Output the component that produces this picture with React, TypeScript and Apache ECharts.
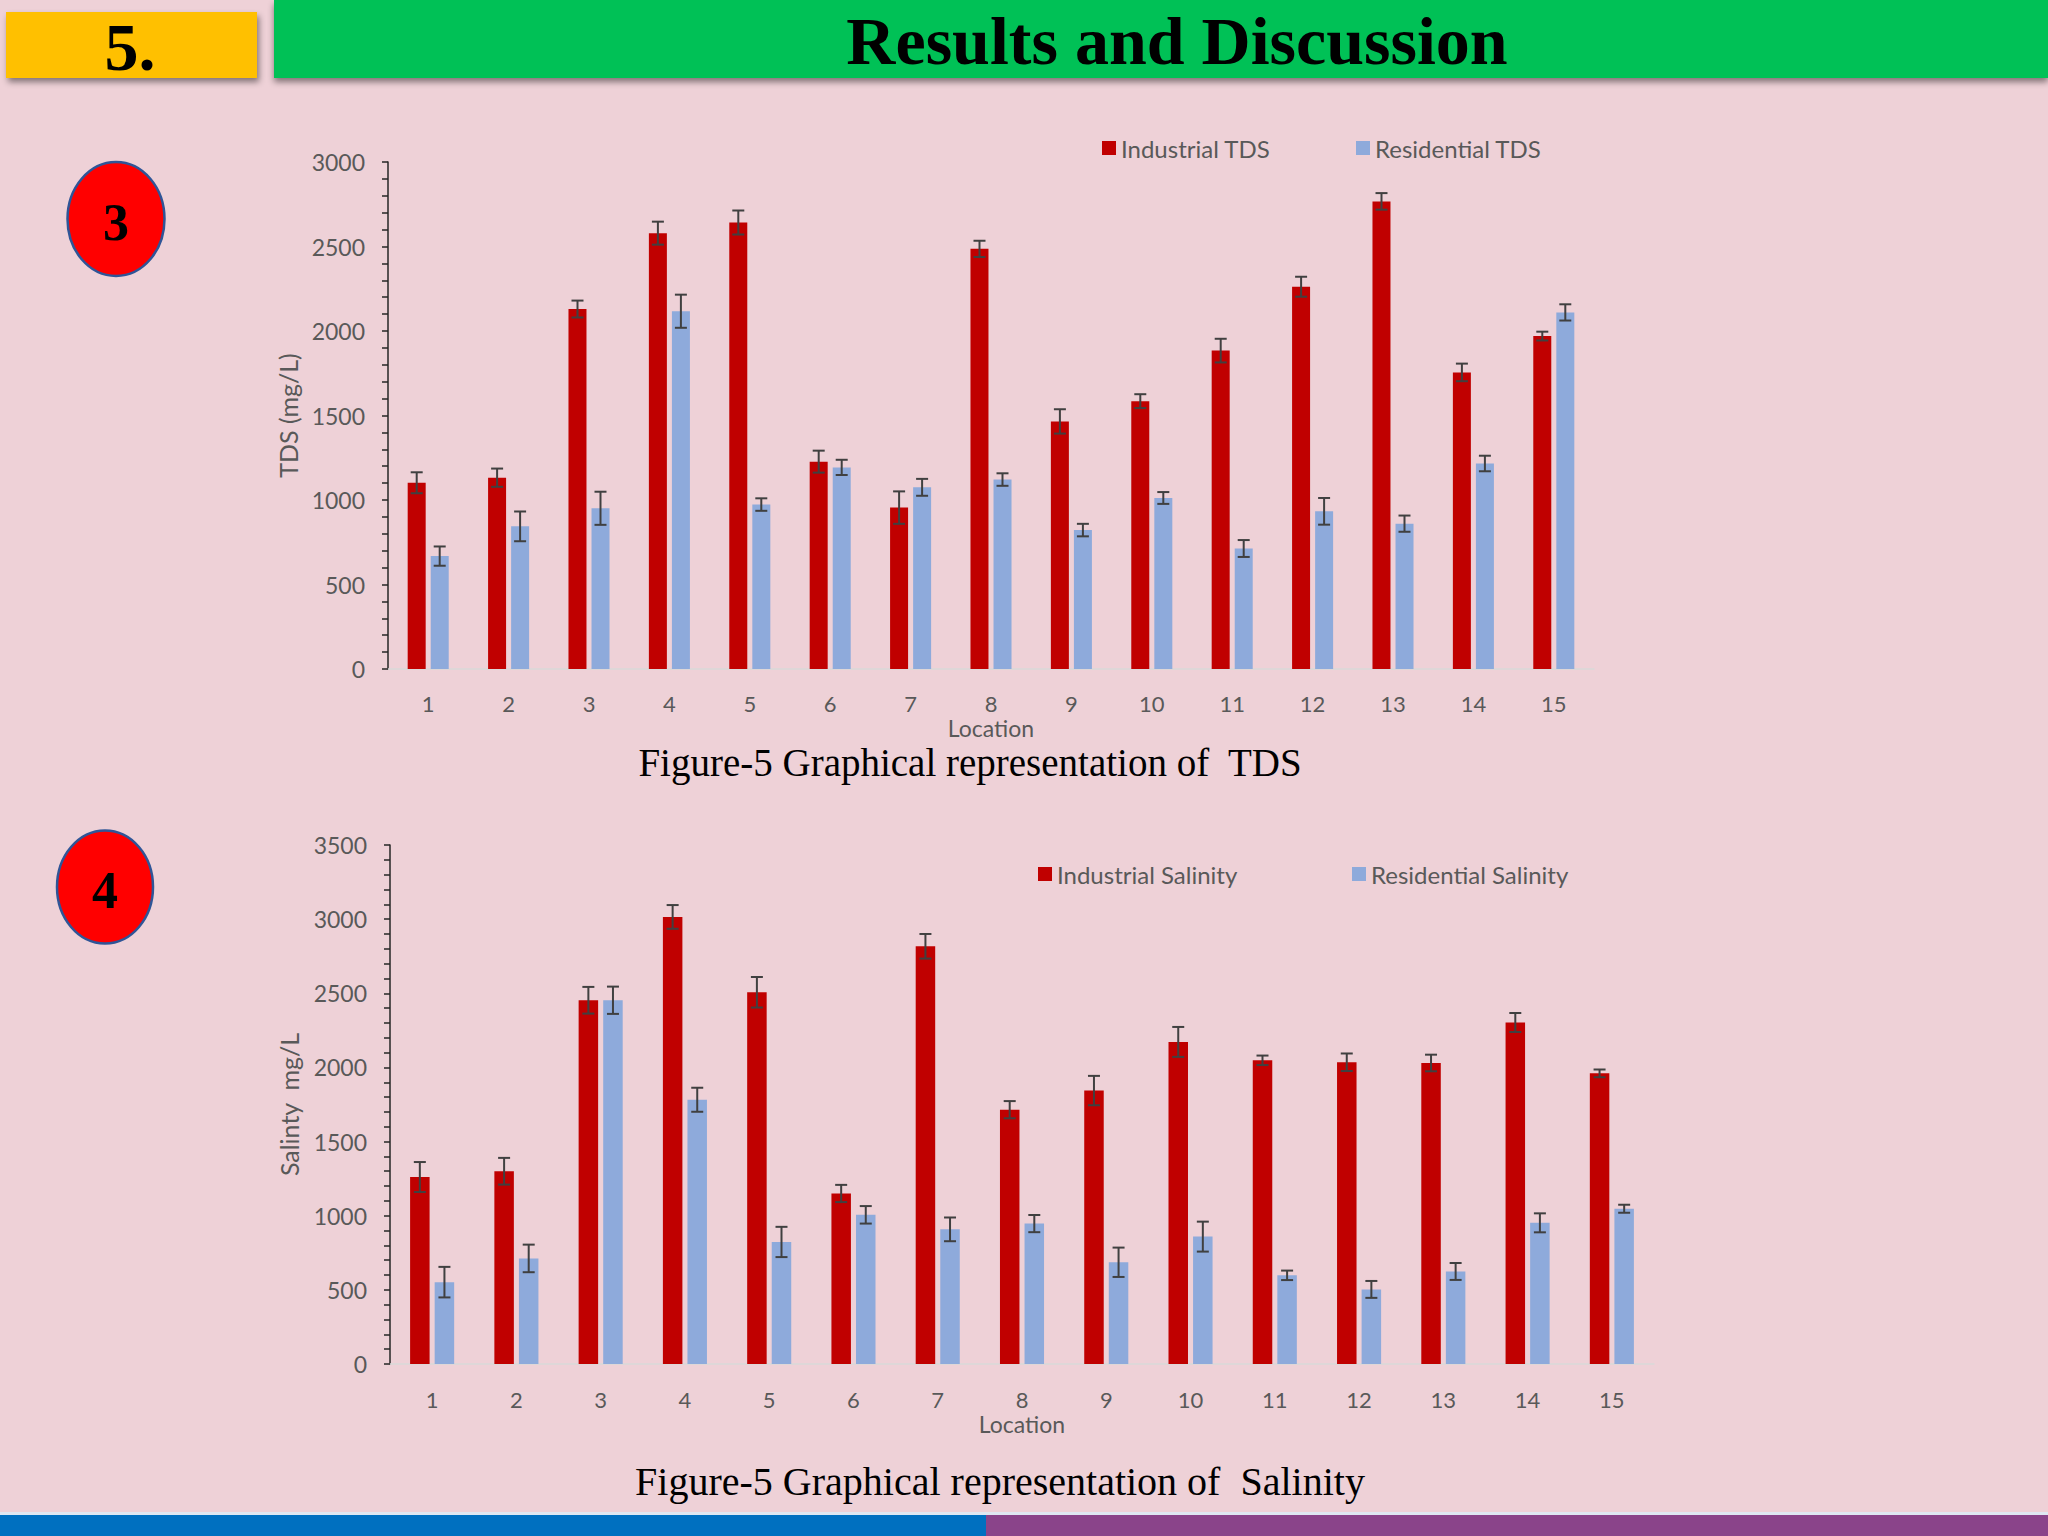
import React, { useEffect, useRef } from "react";
import * as echarts from "echarts";

// Sampling locations shared by both charts
const locations = ["1", "2", "3", "4", "5", "6", "7", "8", "9", "10", "11", "12", "13", "14", "15"];

// Total dissolved solids (mg/L) with standard-error bars
const industrialTDS = [1102, 1132, 2130, 2579, 2642, 1227, 955, 2486, 1465, 1585, 1884, 2262, 2767, 1755, 1970];
const industrialTDSErr = [62, 54, 50, 68, 71, 65, 96, 48, 72, 41, 70, 59, 49, 52, 26];
const residentialTDS = [668, 844, 951, 2117, 973, 1193, 1075, 1121, 822, 1012, 713, 933, 860, 1216, 2110];
const residentialTDSErr = [57, 88, 98, 98, 37, 45, 50, 37, 37, 35, 50, 79, 48, 46, 48];

// Salinity (mg/L) with standard-error bars
const industrialSalinity = [1261, 1300, 2453, 3015, 2507, 1150, 2817, 1715, 1844, 2172, 2048, 2035, 2030, 2303, 1960];
const industrialSalinityErr = [101, 90, 90, 80, 103, 58, 83, 58, 99, 101, 32, 59, 56, 64, 26];
const residentialSalinity = [552, 712, 2453, 1782, 823, 1006, 908, 947, 686, 859, 598, 503, 624, 952, 1047];
const residentialSalinityErr = [103, 93, 92, 81, 102, 59, 80, 58, 99, 101, 32, 57, 57, 64, 27];

const SANS = 'Lato, "Open Sans", "Noto Sans", sans-serif';
const SERIF = '"Liberation Serif", "DejaVu Serif", serif';
const RED = "#c00000";
const BLUE = "#8eaadb";
const GREY_TEXT = "#595959";

function errorBars(
  values: number[],
  errs: number[],
  axisIndex: number,
  offset: number
) {
  return {
    type: "custom",
    xAxisIndex: axisIndex,
    yAxisIndex: axisIndex,
    z: 10,
    silent: true,
    data: values.map((v, i) => [i, v, errs[i]]),
    encode: { x: 0, y: 1 },
    renderItem: (_params: any, api: any) => {
      const i = api.value(0);
      const v = api.value(1);
      const e = api.value(2);
      const hi = api.coord([i, v + e]);
      const lo = api.coord([i, v - e]);
      const x = hi[0] + offset;
      const style = { stroke: "#404040", lineWidth: 2 };
      return {
        type: "group",
        children: [
          { type: "line", shape: { x1: x, y1: hi[1], x2: x, y2: lo[1] }, style },
          { type: "line", shape: { x1: x - 6, y1: hi[1], x2: x + 6, y2: hi[1] }, style },
          { type: "line", shape: { x1: x - 6, y1: lo[1], x2: x + 6, y2: lo[1] }, style },
        ],
      };
    },
  };
}

function valueAxis(gridIndex: number, max: number, name: string, gap: number) {
  return {
    type: "value",
    gridIndex,
    min: 0,
    max,
    interval: 500,
    name,
    nameLocation: "middle",
    nameGap: gap,
    nameTextStyle: { color: GREY_TEXT, fontSize: 25, fontFamily: SANS },
    axisLine: { show: true, lineStyle: { color: "#262626", width: 1.5 } },
    axisTick: { show: true, length: 6, lineStyle: { color: "#262626", width: 1.5 } },
    minorTick: { show: true, splitNumber: 5, length: 6, lineStyle: { color: "#262626", width: 1.5 } },
    splitLine: { show: false },
    axisLabel: {
      color: GREY_TEXT,
      fontSize: 23,
      fontFamily: SANS,
      margin: 23,
      formatter: (v: number) => String(v),
    },
  };
}

function categoryAxis(gridIndex: number, labelMargin: number, nameGap: number) {
  return {
    type: "category",
    gridIndex,
    data: locations,
    name: "Location",
    nameLocation: "middle",
    nameGap,
    nameTextStyle: { color: GREY_TEXT, fontSize: 23, fontFamily: SANS, lineHeight: 23 },
    axisLine: { show: true, lineStyle: { color: "#d9d9d9", width: 1.5 } },
    axisTick: { show: false },
    axisLabel: { color: GREY_TEXT, fontSize: 22, fontFamily: SANS, margin: labelMargin, lineHeight: 22 },
  };
}

function legendItem(name: string, left: number, top: number) {
  return {
    data: [name],
    left,
    top,
    icon: "rect",
    itemWidth: 14,
    itemHeight: 14,
    itemGap: 0,
    selectedMode: false,
    textStyle: { color: GREY_TEXT, fontSize: 24, fontFamily: SANS },
  };
}

export default function App() {
  const ref = useRef<HTMLDivElement>(null);

  useEffect(() => {
    if (!ref.current) return;
    const chart = echarts.init(ref.current, null, { renderer: "svg" });

    const option: any = {
      animation: false,
      backgroundColor: "#eed1d7",
      grid: [
        { left: 388, top: 162, width: 1206, height: 507 },
        { left: 390, top: 845, width: 1264, height: 519 },
      ],
      xAxis: [categoryAxis(0, 23, 47), categoryAxis(1, 24, 48)],
      yAxis: [
        valueAxis(0, 3000, "TDS (mg/L)", 87),
        valueAxis(1, 3500, "Salinty  mg/L", 89),
      ],
      legend: [
        legendItem("Industrial TDS", 1097, 131),
        legendItem("Residential TDS", 1351, 131),
        legendItem("Industrial Salinity", 1033, 857),
        legendItem("Residential Salinity", 1347, 857),
      ],
      series: [
        {
          type: "bar",
          name: "Industrial TDS",
          xAxisIndex: 0,
          yAxisIndex: 0,
          data: industrialTDS,
          barWidth: 18,
          barGap: "28%",
          itemStyle: { color: RED },
        },
        {
          type: "bar",
          name: "Residential TDS",
          xAxisIndex: 0,
          yAxisIndex: 0,
          data: residentialTDS,
          barWidth: 18,
          barGap: "28%",
          itemStyle: { color: BLUE },
        },
        {
          type: "bar",
          name: "Industrial Salinity",
          xAxisIndex: 1,
          yAxisIndex: 1,
          data: industrialSalinity,
          barWidth: 19.5,
          barGap: "26%",
          itemStyle: { color: RED },
        },
        {
          type: "bar",
          name: "Residential Salinity",
          xAxisIndex: 1,
          yAxisIndex: 1,
          data: residentialSalinity,
          barWidth: 19.5,
          barGap: "26%",
          itemStyle: { color: BLUE },
        },
        errorBars(industrialTDS, industrialTDSErr, 0, -11.5),
        errorBars(residentialTDS, residentialTDSErr, 0, 11.5),
        errorBars(industrialSalinity, industrialSalinityErr, 1, -12.3),
        errorBars(residentialSalinity, residentialSalinityErr, 1, 12.3),
      ],
      graphic: [
        // section number badge
        {
          type: "rect",
          shape: { x: 6, y: 12, width: 251, height: 66 },
          style: { fill: "#ffc000", shadowBlur: 6, shadowOffsetX: 2, shadowOffsetY: 4, shadowColor: "rgba(0,0,0,0.45)" },
        },
        {
          type: "text",
          x: 130,
          y: 47,
          style: { text: "5.", font: `bold 68px ${SERIF}`, fill: "#000", align: "center", verticalAlign: "middle" },
        },
        // title banner
        {
          type: "rect",
          shape: { x: 274, y: 0, width: 1774, height: 78 },
          style: { fill: "#00c157", shadowBlur: 6, shadowOffsetY: 4, shadowColor: "rgba(0,0,0,0.45)" },
        },
        {
          type: "text",
          x: 1177,
          y: 41,
          style: { text: "Results and Discussion", font: `bold 68px ${SERIF}`, fill: "#000", align: "center", verticalAlign: "middle" },
        },
        // numbered markers
        {
          type: "ellipse",
          shape: { cx: 116, cy: 219, rx: 48.5, ry: 57 },
          style: { fill: "#ff0000", stroke: "#2f5597", lineWidth: 2.5 },
        },
        {
          type: "text",
          x: 116,
          y: 222,
          style: { text: "3", font: `bold 52px ${SERIF}`, fill: "#000", align: "center", verticalAlign: "middle" },
        },
        {
          type: "ellipse",
          shape: { cx: 105, cy: 887, rx: 48, ry: 56.5 },
          style: { fill: "#ff0000", stroke: "#2f5597", lineWidth: 2.5 },
        },
        {
          type: "text",
          x: 105,
          y: 890,
          style: { text: "4", font: `bold 52px ${SERIF}`, fill: "#000", align: "center", verticalAlign: "middle" },
        },
        // figure captions
        {
          type: "text",
          x: 970,
          y: 762,
          style: { text: "Figure-5 Graphical representation of  TDS", font: `39px ${SERIF}`, fill: "#000", align: "center", verticalAlign: "middle" },
        },
        {
          type: "text",
          x: 1000,
          y: 1481,
          style: { text: "Figure-5 Graphical representation of  Salinity", font: `40px ${SERIF}`, fill: "#000", align: "center", verticalAlign: "middle" },
        },
        // footer strip
        {
          type: "rect",
          shape: { x: 0, y: 1512, width: 2048, height: 3 },
          style: { fill: "#dfe8f2" },
        },
        {
          type: "rect",
          shape: { x: 0, y: 1515, width: 986, height: 21 },
          style: { fill: "#0070c0" },
        },
        {
          type: "rect",
          shape: { x: 986, y: 1515, width: 1062, height: 21 },
          style: { fill: "#8a448a" },
        },
      ],
    };

    chart.setOption(option);
    return () => chart.dispose();
  }, []);

  return (
    <div
      ref={ref}
      style={{ position: "fixed", left: 0, top: 0, width: 2048, height: 1536 }}
    />
  );
}
